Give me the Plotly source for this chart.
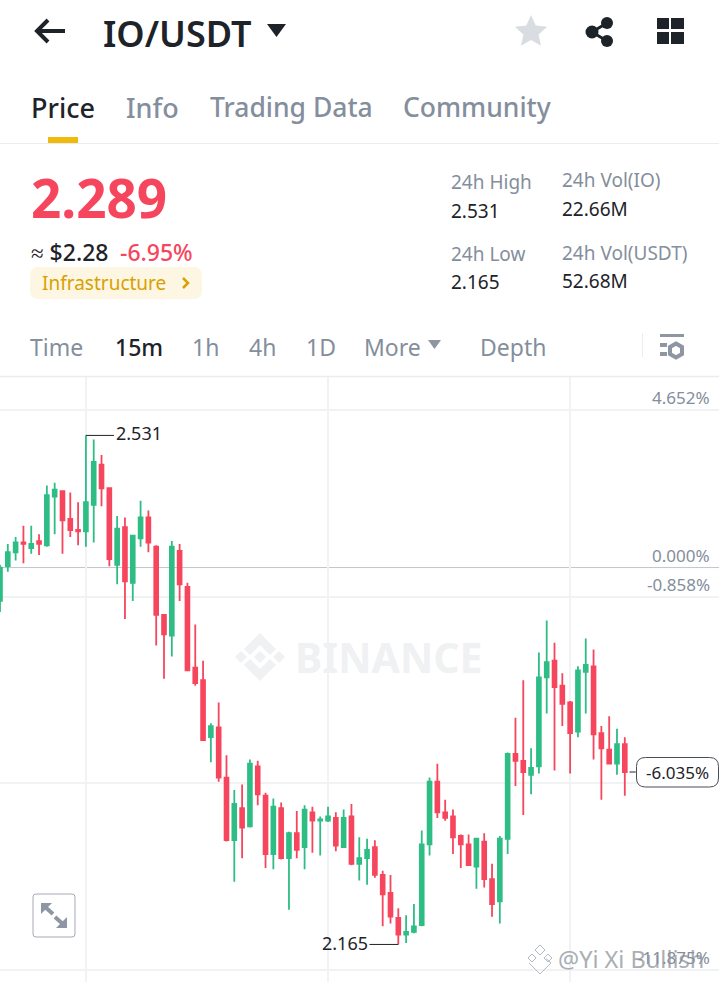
"""IO/USDT 15m candles as shown on the Binance app screen."""
import math
import plotly.graph_objs as go

WIDTH, HEIGHT = 719, 982
CHART_TOP = 377

# reference price is the 0.000% line
ref_price = 2.436

opens = [2.412, 2.437, 2.447, 2.454, 2.450, 2.455, 2.452, 2.487, 2.491, 2.471,
         2.463, 2.462, 2.481, 2.510, 2.493, 2.438, 2.465, 2.425, 2.457, 2.472,
         2.451, 2.402, 2.387, 2.448, 2.422, 2.364, 2.355, 2.314, 2.321, 2.285,
         2.240, 2.263, 2.250, 2.293, 2.272, 2.230, 2.263, 2.227, 2.245, 2.235,
         2.260, 2.254, 2.254, 2.256, 2.235, 2.257, 2.223, 2.227, 2.235, 2.215,
         2.202, 2.184, 2.172, 2.174, 2.179, 2.237, 2.282, 2.260, 2.257, 2.243,
         2.237, 2.221, 2.239, 2.212, 2.196, 2.241, 2.302, 2.297, 2.287, 2.293,
         2.357, 2.369, 2.351, 2.339, 2.318, 2.361, 2.365, 2.317, 2.305, 2.295,
         2.309]
highs = [2.438, 2.453, 2.458, 2.466, 2.466, 2.460, 2.495, 2.497, 2.491, 2.490,
         2.483, 2.531, 2.528, 2.517, 2.493, 2.473, 2.472, 2.459, 2.484, 2.477,
         2.452, 2.402, 2.455, 2.453, 2.425, 2.395, 2.369, 2.324, 2.339, 2.301,
         2.276, 2.280, 2.298, 2.297, 2.274, 2.270, 2.267, 2.246, 2.261, 2.265,
         2.264, 2.257, 2.264, 2.260, 2.262, 2.266, 2.242, 2.241, 2.240, 2.218,
         2.215, 2.191, 2.186, 2.194, 2.247, 2.285, 2.295, 2.269, 2.262, 2.244,
         2.244, 2.241, 2.245, 2.223, 2.243, 2.303, 2.328, 2.355, 2.306, 2.375,
         2.398, 2.382, 2.360, 2.340, 2.365, 2.385, 2.377, 2.322, 2.329, 2.320,
         2.314]
lows = [2.404, 2.433, 2.441, 2.439, 2.446, 2.445, 2.451, 2.460, 2.446, 2.458,
        2.452, 2.451, 2.454, 2.480, 2.437, 2.424, 2.399, 2.412, 2.451, 2.447,
        2.380, 2.356, 2.372, 2.412, 2.362, 2.351, 2.312, 2.296, 2.282, 2.239,
        2.210, 2.227, 2.249, 2.265, 2.220, 2.219, 2.226, 2.190, 2.227, 2.219,
        2.231, 2.229, 2.253, 2.232, 2.235, 2.222, 2.211, 2.208, 2.213, 2.178,
        2.180, 2.165, 2.166, 2.173, 2.178, 2.229, 2.256, 2.254, 2.230, 2.220,
        2.222, 2.205, 2.206, 2.185, 2.180, 2.230, 2.279, 2.258, 2.273, 2.288,
        2.331, 2.290, 2.322, 2.288, 2.314, 2.331, 2.298, 2.269, 2.295, 2.287,
        2.272]
closes = [2.436, 2.447, 2.454, 2.453, 2.453, 2.453, 2.488, 2.492, 2.470, 2.463,
          2.462, 2.483, 2.512, 2.493, 2.442, 2.464, 2.426, 2.459, 2.472, 2.454,
          2.402, 2.388, 2.451, 2.424, 2.362, 2.353, 2.312, 2.322, 2.285, 2.240,
          2.266, 2.249, 2.295, 2.273, 2.230, 2.264, 2.227, 2.245, 2.233, 2.262,
          2.254, 2.255, 2.257, 2.236, 2.256, 2.223, 2.227, 2.233, 2.215, 2.201,
          2.185, 2.172, 2.174, 2.178, 2.237, 2.282, 2.260, 2.256, 2.242, 2.237,
          2.222, 2.241, 2.212, 2.194, 2.241, 2.302, 2.297, 2.289, 2.292, 2.357,
          2.368, 2.350, 2.338, 2.317, 2.362, 2.366, 2.316, 2.306, 2.295, 2.309,
          2.289]

grid_pct = [4.652, -0.858, -6.368, -11.875]
grid_labels = ["4.652%", "-0.858%", None, "-11.875%"]
grid_candles = [11, 42, 73]
last_pct = -6.035
zero_label = "0.000%"

GREEN = "#2ebd85"
RED = "#f6465d"
DARK = "#1e2329"
GREY = "#848e9c"
ICON = "#8e96a3"
LINE = "#eaecef"
GRID = "#f1f2f4"
MARK = "#f0f1f2"
FONT = "Noto Sans"


def px(x):
    return x / WIDTH


def py(y):
    return 1 - y / HEIGHT


def pt(x, y):
    return f"{px(x):.5f} {py(y):.5f}"


def poly(points, closed=True):
    d = "M " + " L ".join(pt(x, y) for x, y in points)
    return d + " Z" if closed else d


def round_rect(x0, y0, x1, y1, r):
    return (f"M {pt(x0 + r, y0)} L {pt(x1 - r, y0)} Q {pt(x1, y0)} {pt(x1, y0 + r)} "
            f"L {pt(x1, y1 - r)} Q {pt(x1, y1)} {pt(x1 - r, y1)} "
            f"L {pt(x0 + r, y1)} Q {pt(x0, y1)} {pt(x0, y1 - r)} "
            f"L {pt(x0, y0 + r)} Q {pt(x0, y0)} {pt(x0 + r, y0)} Z")


shapes = []
annotations = []


def fill(path, color, layer="above"):
    shapes.append(dict(type="path", xref="paper", yref="paper", path=path,
                       fillcolor=color, line=dict(width=0), layer=layer))


def stroke(path, color, width=2, layer="above"):
    shapes.append(dict(type="path", xref="paper", yref="paper", path=path,
                       line=dict(color=color, width=width), layer=layer))


def circle(cx, cy, r, color):
    shapes.append(dict(type="circle", xref="paper", yref="paper",
                       x0=px(cx - r), x1=px(cx + r), y0=py(cy - r), y1=py(cy + r),
                       fillcolor=color, line=dict(width=0)))


def label(x, y, text, size, color, weight=400, family=FONT, opacity=1):
    annotations.append(dict(xref="paper", yref="paper", x=px(x), y=py(y), text=text,
                            xanchor="left", yanchor="middle", xshift=-2, showarrow=False,
                            opacity=opacity,
                            font=dict(size=size, color=color, weight=weight, family=family)))


# header
stroke(poly([(37, 31), (65, 31)], False), DARK, 4)
stroke(poly([(48, 20), (37, 31), (48, 42)], False), DARK, 4)
label(103, 33, "IO/USDT", 36, DARK, 600)
fill(poly([(267, 24), (286, 24), (276.5, 37)]), DARK)
star = []
for i in range(10):
    r = 17 if i % 2 == 0 else 8
    a = -math.pi / 2 + i * math.pi / 5
    star.append((531 + r * math.cos(a), 32 + r * math.sin(a)))
fill(poly(star), "#d9dce1")
stroke(poly([(607, 23), (592, 32), (607, 41)], False), DARK, 3)
circle(607, 23, 6, DARK)
circle(592, 32, 6.5, DARK)
circle(607, 41, 6, DARK)
for x0, x1 in [(657, 669), (671, 684)]:
    for y0, y1 in [(18, 29), (32, 44)]:
        fill(poly([(x0, y0), (x1, y0), (x1, y1), (x0, y1)]), DARK)

# tabs
label(31, 107, "Price", 27, DARK, 500)
label(126, 107, "Info", 27, GREY, 500)
label(210, 107, "Trading Data", 26.5, GREY, 500)
label(403, 107, "Community", 26.5, GREY, 500)
fill(poly([(48, 137), (78, 137), (78, 143), (48, 143)]), "#f0b90b")
stroke(poly([(0, 143.5), (WIDTH, 143.5)], False), LINE, 1)

# price block
label(31, 197, "2.289", 53, RED, 700)
label(31, 252, "≈ $2.28", 23, DARK, 500)
label(120, 252, "-6.95%", 23, RED, 500)
fill(round_rect(30, 267, 202, 299, 9), "#fdf6e3")
label(42, 283, "Infrastructure", 19, "#d8a100")
stroke(poly([(183, 278), (188, 283), (183, 288)], False), "#d8a100", 2.5)
for x, y, text, color in [(451, 182, "24h High", GREY), (451, 211, "2.531", DARK),
                          (451, 254, "24h Low", GREY), (451, 282, "2.165", DARK),
                          (562, 180, "24h Vol(IO)", GREY), (562, 209, "22.66M", DARK),
                          (562, 253, "24h Vol(USDT)", GREY), (562, 281, "52.68M", DARK)]:
    label(x, y, text, 19, color)

# interval bar
for x, text, color, weight in [(30, "Time", GREY, 400), (115, "15m", DARK, 500),
                               (192, "1h", GREY, 400), (249, "4h", GREY, 400),
                               (306, "1D", GREY, 400), (364, "More", GREY, 400),
                               (480, "Depth", GREY, 400)]:
    label(x, 347, text, 23, color, weight)
fill(poly([(428, 340), (441, 340), (434.5, 349)]), ICON)
stroke(poly([(642.5, 333), (642.5, 357)], False), LINE, 1)
stroke(poly([(0, 376.5), (WIDTH, 376.5)], False), LINE, 1.5)
fill(poly([(660, 334), (684, 334), (684, 337), (660, 337)]), ICON)
fill(poly([(660, 343), (667, 343), (667, 347), (660, 347)]), ICON)
fill(poly([(660, 352), (667, 352), (667, 356), (660, 356)]), ICON)
stroke(poly([(676, 343.5), (682, 347), (682, 354), (676, 357.5), (670, 354), (670, 347)]), ICON, 4)

# watermark behind the candles
fill(poly([(260, 633), (276, 649), (270, 655), (260, 645), (250, 655), (244, 649)]), MARK, "below")
fill(poly([(260, 681), (276, 665), (270, 659), (260, 669), (250, 659), (244, 665)]), MARK, "below")
for cx in [241, 260, 279]:
    fill(poly([(cx, 651), (cx + 6, 657), (cx, 663), (cx - 6, 657)]), MARK, "below")
label(295, 657, "BINANCE", 41, MARK, 700)

# percent labels sit just above their grid lines
for pct, text in zip(grid_pct, grid_labels):
    if text:
        annotations.append(dict(x=1, xref="paper", y=ref_price * (1 + pct / 100), yref="y",
                                text=text, xanchor="right", yanchor="middle", yshift=12,
                                xshift=-7, showarrow=False,
                                font=dict(size=17, color=GREY, family=FONT)))
annotations.append(dict(x=1, xref="paper", y=ref_price, yref="y", text=zero_label,
                        xanchor="right", yanchor="middle", yshift=12, xshift=-7,
                        showarrow=False, font=dict(size=17, color=GREY, family=FONT)))

# high / low markers
hi_i = highs.index(max(highs))
lo_i = lows.index(min(lows))
shapes.append(dict(type="line", xref="x", yref="y", x0=hi_i, x1=hi_i + 3.6,
                   y0=highs[hi_i], y1=highs[hi_i], line=dict(color=DARK, width=1)))
shapes.append(dict(type="line", xref="x", yref="y", x0=lo_i - 3.7, x1=lo_i,
                   y0=lows[lo_i], y1=lows[lo_i], line=dict(color=DARK, width=1)))
annotations.append(dict(x=hi_i, y=highs[hi_i], xref="x", yref="y", text=f"{highs[hi_i]:.3f}",
                        xanchor="left", xshift=28, yshift=2, showarrow=False,
                        font=dict(size=18, color=DARK, family=FONT)))
annotations.append(dict(x=lo_i, y=lows[lo_i], xref="x", yref="y", text=f"{lows[lo_i]:.3f}",
                        xanchor="right", xshift=-28, yshift=1, showarrow=False,
                        font=dict(size=18, color=DARK, family=FONT)))

# last price tag
last_price = ref_price * (1 + last_pct / 100)
shapes.append(dict(type="line", xref="x", yref="y", x0=len(closes) - 1 + 0.6,
                   x1=len(closes) - 1 + 1.4, y0=last_price, y1=last_price,
                   line=dict(color=DARK, width=1)))
fill(round_rect(636.5, 757.5, 718.5, 787, 9), "white")
stroke(round_rect(636.5, 757.5, 718.5, 787, 9), "#474d57", 1)
annotations.append(dict(x=px(677.5), xref="paper", y=last_price, yref="y",
                        text=f"{last_pct:.3f}%", xanchor="center", yanchor="middle",
                        showarrow=False, font=dict(size=17, color=DARK, family=FONT)))

# expand button
fill(round_rect(33, 894, 75, 937, 3), "white")
stroke(round_rect(33, 894, 75, 937, 3), "#a4aab4", 1)
stroke(poly([(44, 906), (53, 914)], False), ICON, 4)
stroke(poly([(55, 917), (64, 925)], False), ICON, 4)
fill(poly([(41, 903), (52, 903), (41, 914)]), ICON)
fill(poly([(67, 928), (56, 928), (67, 917)]), ICON)

# account watermark
label(558, 959, "@Yi Xi Bullish", 23.5, "#8d939c", opacity=0.75)
for cx, cy, r in [(540, 950, 5), (532, 958, 4), (548, 958, 4)]:
    stroke(poly([(cx, cy - r), (cx + r, cy), (cx, cy + r), (cx - r, cy)]), "#b5b9c0", 1)
stroke(poly([(529, 963), (540, 974), (551, 963), (546, 958.5)], False), "#b5b9c0", 1)

candles = go.Candlestick(
    x=list(range(len(closes))),
    open=opens,
    high=highs,
    low=lows,
    close=closes,
    whiskerwidth=0,
    increasing=dict(line=dict(color=GREEN, width=1.8), fillcolor=GREEN),
    decreasing=dict(line=dict(color=RED, width=1.8), fillcolor=RED),
    hoverinfo="skip",
)

fig = go.Figure(data=[candles])

# zero line is darker than the rest of the grid
shapes.append(dict(type="line", xref="paper", yref="y", x0=0, x1=1, y0=ref_price, y1=ref_price,
                   line=dict(color="#c3c6cc", width=1), layer="below"))

fig.update_layout(
    width=WIDTH,
    height=HEIGHT,
    margin=dict(l=0, r=0, t=0, b=0),
    paper_bgcolor="white",
    plot_bgcolor="white",
    showlegend=False,
    shapes=shapes,
    annotations=annotations,
    xaxis=dict(range=[0, WIDTH / 7.81], rangeslider=dict(visible=False), tickvals=grid_candles,
               showticklabels=False, showgrid=True, gridcolor=GRID, gridwidth=1.5,
               zeroline=False, ticks=""),
    yaxis=dict(range=[2.138, 2.573], domain=[0, 1 - CHART_TOP / HEIGHT],
               tickvals=[ref_price * (1 + p / 100) for p in grid_pct],
               showticklabels=False, showgrid=True, gridcolor=GRID, gridwidth=1.5,
               zeroline=False, ticks=""),
)

fig.write_html("out.html", config=dict(displayModeBar=False),
               post_script="document.body.style.margin='0';document.body.style.overflow='hidden';")
